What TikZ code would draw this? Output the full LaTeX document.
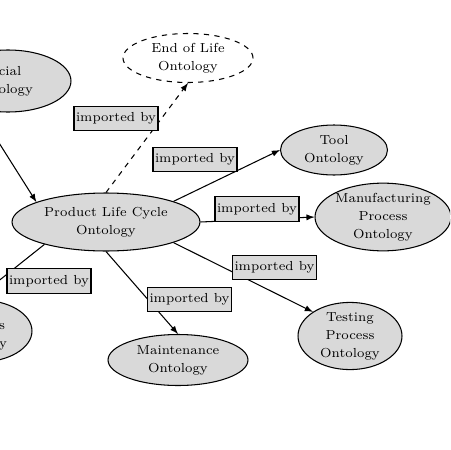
\documentclass[tikz,border=0pt]{standalone}
\usetikzlibrary{shapes.geometric}
\newcommand{\pxUnit}{0.02cm}
\newcommand{\importedBy}{imported by}
\newcommand{\ontoFill}{gray!30}

\begin{document}
\begin{tikzpicture}[x=\pxUnit, y=-\pxUnit, line width=0.6pt,
    font=\fontsize{7.45}{10.24}\selectfont,
    onto/.style={ellipse, draw, fill=\ontoFill, inner sep=0pt, align=center},
    byBox/.style={rectangle, draw, fill=\ontoFill, inner sep=0pt,
      minimum width=1.68cm, minimum height=0.49cm}]
\useasboundingbox (0,0) rectangle (450,450);
\clip (0,0) rectangle (450,450);

\node (plc) [onto, minimum width=3.76cm, minimum height=1.16cm] at (106,222) {Product Life Cycle\\Ontology};
\node (eol) [onto, fill=white, dashed, minimum width=2.6cm, minimum height=0.98cm] at (188,58) {End of Life\\Ontology};
\node (tool) [onto, minimum width=2.14cm, minimum height=1cm] at (334,150) {Tool\\Ontology};
\node (manu) [onto, minimum width=2.72cm, minimum height=1.32cm] at (383,217) {Manufacturing\\Process\\Ontology};
\node (test) [onto, minimum width=2.08cm, minimum height=1.32cm] at (350,336) {Testing\\Process\\Ontology};
\node (maint) [onto, minimum width=2.8cm, minimum height=1.02cm] at (178,360) {Maintenance\\Ontology};
\node (tl) [onto, minimum width=2.52cm, minimum height=1.24cm, text width=1cm, align=right] at (8,81) {cial\kern6.6pt\\ology};
\node (bl) [onto, minimum width=2.08cm, minimum height=1.24cm, text width=1.08cm, align=right] at (-20,331) {\mbox{}\\s\kern1.1pt\\y};

\draw[-latex, dashed] (plc.north) -- (eol.south);
\draw[-latex] (tl.222) -- (plc.164);
\draw[-latex] (plc.17) -- (tool.west);
\draw[-latex] (plc.east) -- (manu.west);
\draw[-latex] (plc.-17) -- (test.147);
\draw[-latex] (plc.south) -- (maint.north);
\draw[-latex] (plc.200) -- (bl.99);

\node (eolby) [byBox] at (116,118.5) {\importedBy};
\node (toolby) [byBox] at (195,159.5) {\importedBy};
\node (manuby) [byBox] at (257,209) {\importedBy};
\node (testby) [byBox] at (274.5,267.5) {\importedBy};
\node (maintby) [byBox] at (189.5,299.5) {\importedBy};
\node (blby) [byBox] at (49,281) {\importedBy};
\end{tikzpicture}
\end{document}
